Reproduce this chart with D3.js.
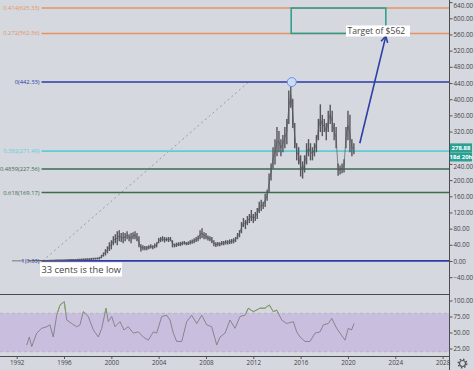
<!DOCTYPE html>
<html>
<head>
<meta charset="utf-8">
<script src="https://cdn.jsdelivr.net/npm/d3@7"></script>
<style>
  html, body { margin: 0; padding: 0; background: #d5d8df; }
  svg { display: block; font-family: "Open Sans", "DejaVu Sans", sans-serif; }
</style>
</head>
<body>
<svg id="chart" width="474" height="370"></svg>
<script>
"use strict";

// bars: one every 2 months starting Jan 1993, [low, high]
const barStart = 1993;
const barStep = 1 / 6;
const priceLows = [
  0.33, 0.4, 0.5, 0.5, 0.6, 0.7,
  0.8, 0.9, 1.0, 1.0, 1.1, 1.2,
  1.0, 1.2, 1.4, 1.5, 1.6, 1.8,
  1.5, 1.8, 2.0, 2.2, 2.4, 2.5,
  2.0, 2.4, 2.8, 3.0, 3.2, 3.5,
  3.0, 3.5, 4.0, 4.5, 4.8, 5.0,
  5, 8, 12, 15, 20, 26,
  30, 40, 45, 40, 50, 48,
  45, 50, 55, 50, 45, 55,
  55, 50, 35, 25, 28, 28,
  28, 30, 32, 30, 33, 35,
  45, 48, 50, 47, 50, 48,
  50, 35, 35, 36, 38, 38,
  40, 42, 40, 41, 42, 44,
  45, 48, 50, 55, 58, 55,
  55, 52, 50, 45, 38, 36,
  38, 38, 40, 40, 42, 42,
  43, 44, 45, 48, 55, 60,
  70, 85, 80, 90, 95, 100,
  95, 100, 105, 120, 125, 130,
  135, 150, 170, 200, 230, 240,
  260, 270, 260, 270, 280, 290,
  340, 380, 330, 280, 250, 240,
  210, 205, 220, 240, 260, 250,
  250, 260, 270, 300, 320, 310,
  320, 300, 320, 340, 320, 300,
  280, 212, 215, 218, 220, 280,
  300, 270, 260, 265
];
const priceHighs = [
  0.6, 0.7, 0.8, 0.9, 1.0, 1.1,
  1.2, 1.3, 1.4, 1.5, 1.5, 1.6,
  1.8, 2.0, 2.2, 2.3, 2.4, 2.5,
  2.6, 3.0, 3.2, 3.5, 3.8, 4.0,
  3.8, 4.2, 4.5, 4.8, 5.0, 5.5,
  5.5, 6.0, 6.5, 6.8, 7.0, 7.5,
  9, 14, 20, 28, 35, 45,
  50, 60, 65, 72, 75, 68,
  70, 68, 72, 65, 68, 70,
  72, 68, 60, 40, 38, 36,
  36, 38, 40, 38, 42, 45,
  56, 58, 60, 58, 57, 58,
  58, 50, 42, 44, 45, 46,
  47, 48, 46, 47, 50, 52,
  55, 58, 62, 75, 80, 70,
  68, 62, 60, 58, 50, 45,
  46, 45, 48, 48, 50, 50,
  52, 53, 55, 58, 68, 75,
  95, 105, 100, 110, 115, 125,
  115, 120, 130, 145, 150, 145,
  165, 175, 215, 240, 280, 300,
  330, 320, 300, 310, 330, 350,
  420, 442, 400, 340, 290, 280,
  260, 245, 260, 290, 300, 290,
  280, 290, 310, 350, 386, 360,
  350, 340, 370, 385, 370, 340,
  330, 240, 235, 240, 250, 330,
  370, 360, 300, 290
];

const rsiYears = [
  1992.85, 1993.07, 1993.27, 1993.69, 1994.11, 1994.54, 1994.81, 1995.09, 1995.38, 1995.66,
  1996.02, 1996.23, 1996.65, 1997.07, 1997.35, 1997.63, 1998.05, 1998.48, 1998.9, 1999.19,
  1999.55, 1999.74, 2000.03, 2000.31, 2000.73, 2001.07, 2001.43, 2001.86, 2002.28, 2002.7,
  2003.12, 2003.55, 2003.83, 2004.26, 2004.68, 2004.96, 2005.24, 2005.52, 2005.95, 2006.37,
  2006.79, 2007.22, 2007.64, 2008.06, 2008.48, 2008.91, 2009.19, 2009.61, 2010.03, 2010.45,
  2010.88, 2011.3, 2011.58, 2012.0, 2012.57, 2012.99, 2013.35, 2013.69, 2013.98, 2014.4,
  2014.82, 2015.38, 2015.67, 2015.95, 2016.37, 2016.79, 2017.22, 2017.64, 2017.92, 2018.34,
  2018.63, 2019.05, 2019.33, 2019.75, 2020.03, 2020.31, 2020.51
];
const rsiValues = [
  30.5, 43, 28, 49, 56.5, 59, 62, 43, 77, 93,
  98, 69.5, 64, 59, 62, 82.5, 75, 54, 43, 56.5,
  88, 67, 75, 59, 67, 54, 59, 49, 51, 43,
  38, 51, 49, 75, 77, 69.5, 49, 36, 36, 67,
  77, 64, 77, 62, 59, 30.5, 43, 49, 69.5, 56.5,
  75, 77, 88, 82.5, 88, 88, 93, 82.5, 85, 69.5,
  64, 67, 51, 43, 36, 36, 49, 51, 62, 64,
  72, 56.5, 49, 38, 56.5, 54, 64
];

const fibLevels = [
  { name: "0.414", value: 625.33, color: "#e59461" },
  { name: "0.272", value: 562.56, color: "#e59461" },
  { name: "0", value: 442.33, color: "#2e3aa8" },
  { name: "0.382", value: 271.49, color: "#5fcdd5" },
  { name: "0.4859", value: 227.56, color: "#3f6b4b" },
  { name: "0.618", value: 169.17, color: "#3f6b4b" },
  { name: "1", value: 0.33, color: "#2e3aa8" }
];

// 280.00 sits under the last-price tag, so it is left out
const priceTicks = [640, 600, 560, 520, 480, 440, 400, 360, 320, 240, 200, 160, 120, 80, 40, 0, -40];
const rsiTicks = [100, 75, 50, 25];
const yearTicks = [1992, 1996, 2000, 2004, 2008, 2012, 2016, 2020, 2024, 2028];

const lastPrice = "278.88";
const countdown = "18d 20h";

const W = 474, H = 370;
const axisX = 449;
const svg = d3.select("#chart");

const x = d3.scaleLinear().domain([1992, 2028]).range([16.7, 442.6]);
const y = d3.scaleLinear().domain([0, 640]).range([261, 2.1]);
const yr = d3.scaleLinear().domain([25, 100]).range([348.5, 300.5]);

svg.append("rect").attr("width", W).attr("height", H).attr("fill", "#d5d8df");

// rsi panel band
svg.append("rect")
  .attr("x", 0).attr("width", axisX)
  .attr("y", yr(80)).attr("height", yr(20) - yr(80))
  .attr("fill", "#c9bedd");
svg.selectAll("line.rsi-band")
  .data([80, 20])
  .join("line")
  .attr("x1", 0).attr("x2", axisX)
  .attr("y1", (d) => yr(d)).attr("y2", (d) => yr(d))
  .attr("stroke", "#a9a3b8").attr("stroke-dasharray", "3,3").attr("stroke-width", 0.6);

// fib dashed diagonal
svg.append("line")
  .attr("x1", x(1994.2)).attr("y1", y(0.33))
  .attr("x2", x(2011.6)).attr("y2", y(442.33))
  .attr("stroke", "#9a9ca3").attr("stroke-width", 1)
  .attr("stroke-dasharray", "2,3");

// fib levels
const fibX0 = x(1994.1);
svg.selectAll("line.fib")
  .data(fibLevels)
  .join("line")
  .attr("class", "fib")
  .attr("x1", fibX0).attr("x2", axisX)
  .attr("y1", (d) => y(d.value)).attr("y2", (d) => y(d.value))
  .attr("stroke", (d) => d.color)
  .attr("stroke-width", 1.6);
svg.selectAll("text.fib")
  .data(fibLevels)
  .join("text")
  .attr("class", "fib")
  .attr("x", fibX0 - 2).attr("y", (d) => y(d.value))
  .attr("dy", "0.35em")
  .attr("text-anchor", "end")
  .attr("font-size", 5.8)
  .attr("fill", (d) => d.color)
  .text((d) => `${d.name}(${d.value.toFixed(2)})`);

svg.append("line")
  .attr("x1", 12).attr("x2", 24).attr("y1", y(0.33)).attr("y2", y(0.33))
  .attr("stroke", "#777").attr("stroke-width", 1);

// target box
svg.append("rect")
  .attr("x", x(2015.2)).attr("y", y(625.33))
  .attr("width", x(2023.2) - x(2015.2))
  .attr("height", y(562.56) - y(625.33))
  .attr("fill", "none").attr("stroke", "#2a9c8c").attr("stroke-width", 1.5);

// price bars
const bars = priceLows.map((lo, i) => ({ t: barStart + i * barStep, lo, hi: priceHighs[i] }));
svg.append("path")
  .datum(bars)
  .attr("fill", "none").attr("stroke", "#5a5c61").attr("stroke-width", 0.7)
  .attr("d", d3.line().x((d) => x(d.t)).y((d) => y((d.lo + d.hi) / 2)));
svg.append("g")
  .selectAll("line")
  .data(bars)
  .join("line")
  .attr("x1", (d) => x(d.t)).attr("x2", (d) => x(d.t))
  .attr("y1", (d) => y(d.lo) + 0.5).attr("y2", (d) => y(d.hi) - 0.5)
  .attr("stroke", "#55575c").attr("stroke-width", 1.4);

// peak marker
svg.append("circle")
  .attr("cx", x(2015.25)).attr("cy", y(442.33)).attr("r", 4.5)
  .attr("fill", "#c8dcf5").attr("stroke", "#6d8fe0").attr("stroke-width", 1);

// arrow
const ax0 = x(2021.0), ay0 = y(291), ax1 = x(2023.2), ay1 = y(556);
svg.append("line")
  .attr("x1", ax0).attr("y1", ay0).attr("x2", ax1).attr("y2", ay1)
  .attr("stroke", "#2d3fa6").attr("stroke-width", 1.6);
const ang = Math.atan2(ay1 - ay0, ax1 - ax0);
const hl = 7;
svg.append("path")
  .attr("d", d3.line()([
    [ax1 - hl * Math.cos(ang - 0.5), ay1 - hl * Math.sin(ang - 0.5)],
    [ax1, ay1],
    [ax1 - hl * Math.cos(ang + 0.5), ay1 - hl * Math.sin(ang + 0.5)]
  ]))
  .attr("fill", "none").attr("stroke", "#2d3fa6").attr("stroke-width", 1.6);

// callouts
function callout(tx, ty, w, h, txt, fs) {
  svg.append("rect").attr("x", tx).attr("y", ty).attr("width", w).attr("height", h).attr("fill", "#fff");
  svg.append("text").attr("x", tx + 1.5).attr("y", ty + h / 2).attr("dy", "0.35em")
    .attr("font-size", fs).attr("fill", "#444").text(txt);
}
callout(346, 25.5, 64, 11, "Target of $562", 8.6);
callout(40, 262.5, 82, 14, "33 cents is the low", 9.3);

// rsi line
const rsiPts = rsiYears.map((t, i) => [x(t), yr(rsiValues[i])]);
svg.append("defs").append("clipPath").attr("id", "ob")
  .append("rect").attr("x", 0).attr("width", axisX).attr("y", 0).attr("height", yr(80));
svg.append("path").attr("d", d3.line()(rsiPts))
  .attr("fill", "none").attr("stroke", "#7e7f84").attr("stroke-width", 0.9);
svg.append("path").attr("d", d3.line()(rsiPts)).attr("clip-path", "url(#ob)")
  .attr("fill", "none").attr("stroke", "#7fa35f").attr("stroke-width", 0.9);

// panel separators
svg.append("line").attr("x1", 0).attr("x2", axisX).attr("y1", 294.5).attr("y2", 294.5)
  .attr("stroke", "#4a4c52").attr("stroke-width", 1);
svg.append("line").attr("x1", 0).attr("x2", axisX).attr("y1", 356.5).attr("y2", 356.5)
  .attr("stroke", "#4a4c52").attr("stroke-width", 1);
svg.append("line").attr("x1", axisX + 0.5).attr("x2", axisX + 0.5).attr("y1", 0).attr("y2", H)
  .attr("stroke", "#4a4c52").attr("stroke-width", 1);

// right axes
const priceAxis = d3.axisRight(y).tickValues(priceTicks).tickSize(3).tickFormat(d3.format(".2f"));
const gp = svg.append("g").attr("transform", `translate(${axisX + 0.5},0)`).call(priceAxis);
const rsiAxis = d3.axisRight(yr).tickValues(rsiTicks).tickSize(3).tickFormat(d3.format(".2f"));
const gr = svg.append("g").attr("transform", `translate(${axisX + 0.5},0)`).call(rsiAxis);
[gp, gr].forEach((g) => {
  g.select(".domain").remove();
  g.selectAll(".tick line").attr("stroke", "#555");
  g.selectAll(".tick text").attr("x", 4).attr("font-size", 6.3).attr("fill", "#444")
    .attr("font-family", "'Open Sans', sans-serif");
});
gp.selectAll(".tick text").filter((d) => d === 640).attr("dy", "0.9em");
gp.selectAll(".tick text").filter((d) => d === 240).attr("dy", "0.65em");

// last price labels
[[lastPrice, y(278.88) - 4.8], [countdown, y(278.88) + 4.3]].forEach(([t, ty]) => {
  svg.append("rect").attr("x", axisX + 1).attr("y", ty).attr("width", 22).attr("height", 9)
    .attr("fill", "#2aa193");
  svg.append("text").attr("x", axisX + 12).attr("y", ty + 4.5).attr("dy", "0.35em")
    .attr("text-anchor", "middle").attr("font-size", 6).attr("font-weight", "bold")
    .attr("fill", "#fff").text(t);
});

// time axis
const timeAxis = d3.axisBottom(x).tickValues(yearTicks).tickSize(2.5).tickFormat(d3.format("d"));
const gt = svg.append("g").attr("transform", "translate(0,356.5)").call(timeAxis);
gt.select(".domain").remove();
gt.selectAll(".tick line").attr("stroke", "#555");
gt.selectAll(".tick text").attr("y", 4).attr("font-size", 6.3).attr("fill", "#444")
  .attr("font-family", "'Open Sans', sans-serif");

// settings gear
svg.append("circle").attr("cx", 462.5).attr("cy", 363.5).attr("r", 3)
  .attr("fill", "none").attr("stroke", "#555").attr("stroke-width", 1.2);
svg.append("circle").attr("cx", 462.5).attr("cy", 363.5).attr("r", 4.3)
  .attr("fill", "none").attr("stroke", "#555").attr("stroke-width", 1.4)
  .attr("stroke-dasharray", "1.5,1.88");
</script>
</body>
</html>
